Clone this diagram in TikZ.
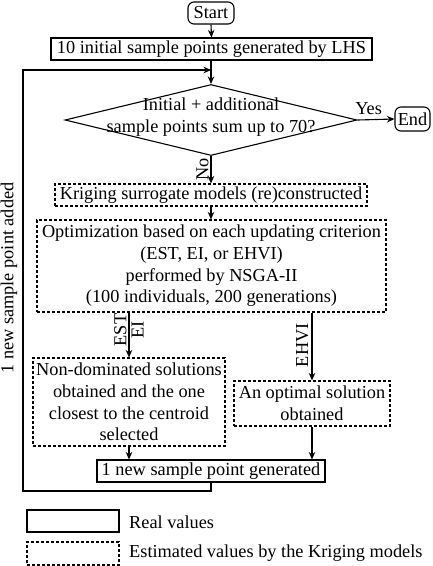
\documentclass[tikz,border=0pt]{standalone}
\usepackage{fontspec}
\setmainfont{Liberation Serif}
\usetikzlibrary{arrows.meta,shapes.geometric}
\begin{document}
\begin{tikzpicture}[x=1pt,y=-1pt,
  every node/.style={font=\fontsize{18.3}{21.7}\selectfont, inner sep=0pt},
  realbox/.style={draw, line width=1.1pt, minimum height=22pt, align=center},
  estbox/.style={draw, dash pattern=on 3pt off 2pt, line width=1.1pt, align=center},
  term/.style={draw, rounded corners=6pt, line width=1.1pt, minimum height=22pt},
  arr/.style={-{Stealth[length=7.5pt,width=6.5pt]}, line width=1.1pt},
  vlbl/.style={rotate=90, inner sep=2pt}]
\useasboundingbox (0,0) rectangle (432,566);

\node[term, minimum width=46pt] (start) at (211,13) {Start};
\node[realbox, minimum width=321pt] (init) at (211.5,49) {10 initial sample points generated by LHS};
\node[draw, diamond, line width=1.1pt, minimum width=292pt, minimum height=71pt] (dec) at (211,120) {};
\node[align=center] (dect) at (211,117) {Initial + additional\\sample points sum up to 70?};
\node[term, minimum width=35pt, minimum height=24pt] (end) at (412.5,119) {End};
\node[estbox, minimum width=312pt, minimum height=22pt] (krig) at (211,195) {Kriging surrogate models (re)constructed};
\node[estbox, minimum width=349pt, minimum height=92pt] (opt) at (211.5,266) {Optimization based on each updating criterion\\(EST, EI, or EHVI)\\performed by NSGA-II\\(100 individuals, 200 generations)};
\node[estbox, minimum width=192pt, minimum height=88pt] (nd) at (129,402) {Non-dominated solutions\\obtained and the one\\closest to the centroid\\selected};
\node[estbox, minimum width=156pt, minimum height=45pt] (os) at (312,403.5) {An optimal solution\\obtained};
\node[realbox, minimum width=228pt] (np) at (211,471) {1 new sample point generated};

\coordinate (merge) at (211,70);
\coordinate (loopl) at (23,491);

\draw[arr] (start.south) -- (init.north);
\draw[line width=1.1pt] (init.south -| merge) -- (merge);
\draw[arr] (merge) -- (dec.north);
\draw[arr] (dec.east) -- (end.west) node[pos=0.3, above=4pt] {Yes};
\draw[arr] (dec.south) -- (krig.north) node[vlbl, pos=0.5, anchor=south] {No};
\draw[arr] (krig.south) -- (opt.north -| krig.south);
\draw[arr] (nd.north |- opt.south) -- (nd.north)
  node[vlbl, pos=0.39, anchor=south] {EST}
  node[vlbl, pos=0.39, anchor=north] {EI};
\draw[arr] (os.north |- opt.south) -- (os.north) node[vlbl, pos=0.48, anchor=south, inner sep=3pt] {EHVI};
\draw[arr] (nd.south) -- (nd.south |- np.north);
\draw[arr] (os.south) -- (os.south |- np.north);
\draw[arr] (np.south) |- (loopl) |- (merge);
\node[rotate=90] (looplbl) at (9,278) {1 new sample point added};

\node[realbox, minimum width=92pt, minimum height=22pt] (leg1) at (73,521) {};
\node[anchor=west] (leg1t) at (129,522) {Real values};
\node[estbox, minimum width=92pt, minimum height=23pt] (leg2) at (73,553.5) {};
\node[anchor=west] (leg2t) at (129,553) {Estimated values by the Kriging models};
\end{tikzpicture}
\end{document}
